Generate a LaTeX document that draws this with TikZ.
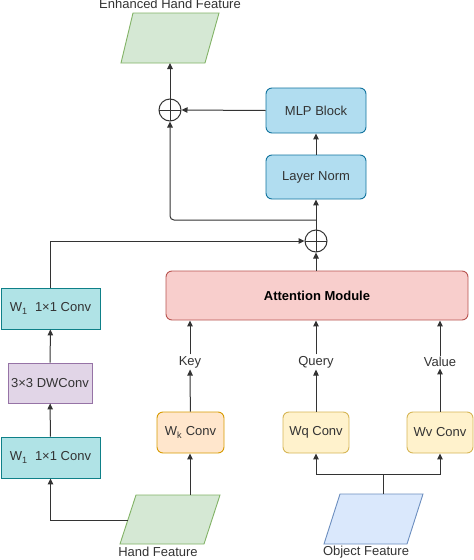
\documentclass[tikz,border=0pt]{standalone}
\usepackage{fontspec}
\setmainfont{Liberation Sans}
\usetikzlibrary{arrows.meta}
\definecolor{gfill}{HTML}{D5E8D4}\definecolor{gdraw}{HTML}{82B366}
\definecolor{bfill}{HTML}{DAE8FC}\definecolor{bdraw}{HTML}{6C8EBF}
\definecolor{cfill}{HTML}{B0E3E6}\definecolor{cdraw}{HTML}{0E8088}
\definecolor{sfill}{HTML}{B1DDF0}\definecolor{sdraw}{HTML}{10739E}
\definecolor{rfill}{HTML}{F8CECC}\definecolor{rdraw}{HTML}{B85450}
\definecolor{pfill}{HTML}{E1D5E7}\definecolor{pdraw}{HTML}{9673A6}
\definecolor{ofill}{HTML}{FFE6CC}\definecolor{odraw}{HTML}{D79B00}
\definecolor{yfill}{HTML}{FFF2CC}\definecolor{ydraw}{HTML}{D6B656}
\definecolor{ln}{HTML}{333333}
\begin{document}
\begin{tikzpicture}[x=1pt,y=-1pt,
  txt/.style={font=\fontsize{13}{15}\selectfont, text=ln},
  box/.style={txt, draw, line width=0.9pt, minimum width=100pt, minimum height=45pt, inner sep=0pt},
  rbox/.style={box, rounded corners=6pt},
  arr/.style={draw=ln, line width=1pt, -{Triangle[length=6pt,width=5.5pt]}},
  plain/.style={draw=ln, line width=1pt},
  lab/.style={txt, fill=white, inner sep=1.5pt},
  plus/.style={circle, draw=ln, line width=1pt, minimum size=22pt, inner sep=0pt,
    path picture={\draw[ln, line width=1pt] (path picture bounding box.north) -- (path picture bounding box.south)
      (path picture bounding box.west) -- (path picture bounding box.east);}},
  para/.style={line width=0.9pt}
]
\useasboundingbox (0,0) rectangle (474,560);

% parallelograms
\draw[para, fill=gfill, draw=gdraw] (133,13) -- (219,13) -- (205,63) -- (121,63) -- cycle;
\node[txt] (ehflab) at (170,4) {Enhanced Hand Feature};
\coordinate (ehfb) at (170,63);

\draw[para, fill=gfill, draw=gdraw] (136,495) -- (220,495) -- (204,544) -- (120,544) -- cycle;
\node[txt] (hflab) at (158,552) {Hand Feature};
\coordinate (hfl) at (128,520);
\coordinate (hft) at (190,495);

\draw[para, fill=bfill, draw=bdraw] (340,494) -- (423,494) -- (407,544) -- (324,544) -- cycle;
\node[txt] (oflab) at (366,552) {Object Feature};
\coordinate (oft) at (383,494);
\coordinate (oj) at (383,474);

% boxes
\node[box, fill=cfill, draw=cdraw, minimum width=99pt, minimum height=41pt] (w1t) at (50.5,308.5) {W\textsubscript{1}\ \ 1×1 Conv};
\node[box, fill=pfill, draw=pdraw, minimum width=84pt, minimum height=40pt] (dw) at (50,383) {3×3 DWConv};
\node[box, fill=cfill, draw=cdraw, minimum width=99pt, minimum height=41pt] (w1b) at (50.5,457.5) {W\textsubscript{1}\ \ 1×1 Conv};

\node[rbox, fill=ofill, draw=odraw, minimum width=67pt, minimum height=41pt] (wk) at (190.5,432.5) {W\textsubscript{k} Conv};
\node[rbox, fill=yfill, draw=ydraw, minimum width=66pt, minimum height=41pt] (wq) at (316,432.5) {Wq Conv};
\node[rbox, fill=yfill, draw=ydraw, minimum width=66pt, minimum height=41pt] (wv) at (440,432.5) {Wv Conv};

\node[rbox, fill=rfill, draw=rdraw, minimum width=302pt, minimum height=49pt, font=\fontsize{13}{15}\selectfont\bfseries, text=black] (att) at (317,295.5) {Attention Module};

\node[rbox, fill=sfill, draw=sdraw, minimum width=100pt, minimum height=44pt] (lnorm) at (316,177) {Layer Norm};
\node[rbox, fill=sfill, draw=sdraw, minimum width=100pt, minimum height=45pt] (mlp) at (316,110.5) {MLP Block};

\node[plus] (p2) at (316,241) {};
\node[plus] (p1) at (170,110) {};

\node[lab] (key) at (190,362) {Key};
\node[lab] (query) at (316,362) {Query};
\node[lab] (value) at (440,362) {Value};

% connectors
\draw[arr] (hfl) -| (w1b.south);
\draw[arr] (w1b) -- (dw);
\draw[arr] (dw) -- (w1t);
\draw[arr] (w1t.north) |- (p2.west);

\draw[arr] (hft) -- (wk.south -| hft);
\draw[arr] (wk) -- (key);
\draw[arr] (key) -- (att.south -| key);

\draw[plain] (oft) -- (oj);
\draw[arr] (oj) -| (wq.south);
\draw[arr] (oj) -| (wv.south);
\draw[arr] (wq) -- (query);
\draw[arr] (query) -- (att.south -| query);
\draw[arr] (wv) -- (value);
\draw[arr] (value) -- (att.south -| value);

\draw[arr] (att.north -| p2) -- (p2.south);
\draw[arr] (p2.north) -- (lnorm.south);
\draw[arr] (lnorm) -- (mlp);
\draw[arr] (mlp.west) -- (p1.east);
\coordinate (br) at (316,220);
\draw[arr, rounded corners=4pt] (br) -| (p1.south);
\draw[arr] (p1.north) -- (ehfb);
\end{tikzpicture}
\end{document}
